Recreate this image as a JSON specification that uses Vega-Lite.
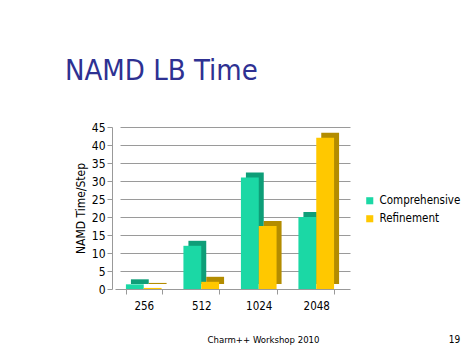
{
  "$schema": "https://vega.github.io/schema/vega-lite/v6.json",
  "width": 230,
  "height": 162,
  "autosize": {"type": "none"},
  "padding": {"left": 112, "top": 127, "right": 132, "bottom": 66},
  "background": "white",
  "config": {"view": {"stroke": null}, "font": "DejaVu Sans Condensed"},
  "title": {
    "text": "NAMD LB Time",
    "anchor": "start",
    "frame": "group",
    "dx": -47,
    "offset": 35,
    "fontSize": 29,
    "font": "DejaVu Sans Condensed",
    "fontWeight": "normal",
    "color": "#2E3192"
  },
  "data": {
    "values": [
      {"procs": "256", "series": "Comprehensive", "time": 1.3},
      {"procs": "256", "series": "Refinement", "time": 0.3},
      {"procs": "512", "series": "Comprehensive", "time": 12},
      {"procs": "512", "series": "Refinement", "time": 2},
      {"procs": "1024", "series": "Comprehensive", "time": 31},
      {"procs": "1024", "series": "Refinement", "time": 17.5},
      {"procs": "2048", "series": "Comprehensive", "time": 20},
      {"procs": "2048", "series": "Refinement", "time": 42}
    ]
  },
  "layer": [
    {
      "mark": {"type": "bar", "yOffset": -5, "y2Offset": -5},
      "encoding": {
        "x": {
          "field": "procs",
          "type": "ordinal",
          "sort": ["256", "512", "1024", "2048"],
          "scale": {"paddingInner": 0.38, "paddingOuter": 0.19, "range": [8, 238]},
          "axis": null
        },
        "xOffset": {"field": "series", "sort": ["Comprehensive", "Refinement"]},
        "y": {
          "field": "time",
          "type": "quantitative",
          "scale": {"domain": [0, 45], "nice": false},
          "axis": {
            "values": [0, 5, 10, 15, 20, 25, 30, 35, 40, 45],
            "labelFontSize": 12,
            "labelColor": "black",
            "grid": true,
            "gridColor": "#9a9a9a",
            "domainColor": "#999999",
            "tickColor": "#999999",
            "tickSize": 5,
            "title": "NAMD Time/Step",
            "titleFontSize": 12,
            "titleFontWeight": "normal",
            "titleColor": "black",
            "titlePadding": 4
          }
        },
        "color": {
          "field": "series",
          "type": "nominal",
          "scale": {"domain": ["Comprehensive", "Refinement"], "range": ["#0E9E78", "#B38C00"]},
          "legend": null
        }
      }
    },
    {
      "mark": {"type": "bar"},
      "encoding": {
        "x": {
          "field": "procs",
          "type": "ordinal",
          "sort": ["256", "512", "1024", "2048"],
          "scale": {"paddingInner": 0.38, "paddingOuter": 0.19, "range": [3, 233]},
          "axis": {
            "labelAngle": 0,
            "labelFontSize": 11.5,
            "labelColor": "black",
            "labelPadding": 6,
            "domainColor": "#999999",
            "tickColor": "#999999",
            "tickBand": "extent",
            "tickSize": 5,
            "title": "Charm++ Workshop 2010",
            "titleFontSize": 9.5,
            "titleFontWeight": "normal",
            "titleColor": "black",
            "titleX": 151,
            "titleY": 53,
            "titleAlign": "center",
            "titleBaseline": "alphabetic"
          }
        },
        "xOffset": {"field": "series", "sort": ["Comprehensive", "Refinement"]},
        "y": {
          "field": "time",
          "type": "quantitative",
          "scale": {"domain": [0, 45], "nice": false},
          "axis": {
            "orient": "right",
            "labels": false,
            "ticks": false,
            "domain": false,
            "grid": false,
            "title": "19",
            "titleAngle": 0,
            "titleX": 112,
            "titleY": 215,
            "titleFontSize": 10,
            "titleFontWeight": "normal",
            "titleColor": "black",
            "titleAlign": "center",
            "titleBaseline": "alphabetic"
          }
        },
        "color": {
          "field": "series",
          "type": "nominal",
          "scale": {"domain": ["Comprehensive", "Refinement"], "range": ["#1BD8A5", "#FFC800"]},
          "legend": {
            "orient": "none",
            "legendX": 252,
            "legendY": 68,
            "title": null,
            "symbolType": "square",
            "symbolSize": 50,
            "symbolStrokeWidth": 0,
            "labelFontSize": 11.5,
            "labelColor": "black",
            "rowPadding": 5
          }
        }
      }
    }
  ],
  "resolve": {
    "scale": {"color": "independent", "x": "independent", "xOffset": "independent"},
    "axis": {"y": "independent"}
  }
}
